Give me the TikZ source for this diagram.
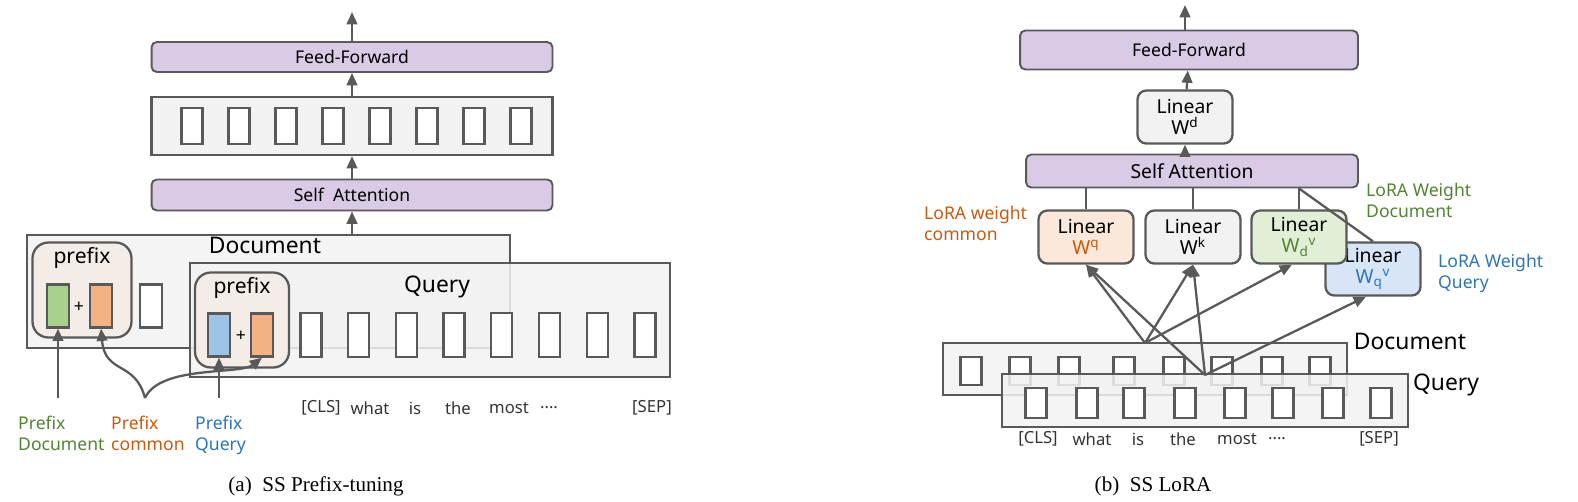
\documentclass[tikz,border=0pt]{standalone}
\usepackage{fontspec}
\setmainfont{Noto Sans}
\newfontfamily\capfont{Liberation Serif}
\usetikzlibrary{arrows.meta}
\definecolor{edgecolor}{RGB}{89,89,89}
\definecolor{attncolor}{RGB}{217,202,230}
\definecolor{panelcolor}{RGB}{242,242,242}
\definecolor{prefixcolor}{RGB}{244,236,230}
\definecolor{doccolor}{RGB}{169,209,142}
\definecolor{commoncolor}{RGB}{244,177,131}
\definecolor{querycolor}{RGB}{157,195,230}
\definecolor{doctext}{RGB}{84,130,53}
\definecolor{commontext}{RGB}{197,90,17}
\definecolor{querytext}{RGB}{46,117,182}

\begin{document}
\begin{tikzpicture}[
    x=0.02cm, y=-0.02cm,
    layer/.style={draw=edgecolor, line width=1.1pt, fill=attncolor, rounded corners=3pt, font=\fontsize{10}{12}\selectfont},
    seqbox/.style={draw=edgecolor, line width=1.3pt, fill=panelcolor, fill opacity=0.85},
    tok/.style={draw=edgecolor, line width=1.3pt, fill=white, minimum width=0.42cm, minimum height=0.8cm, inner sep=0pt},
    vec/.style={draw=edgecolor, line width=1.3pt, minimum width=0.44cm, minimum height=0.86cm, inner sep=0pt},
    linbox/.style={draw=edgecolor, line width=1.3pt, rounded corners=5pt, minimum width=1.9cm, minimum height=1.06cm, align=center, inner sep=1pt, font=\fontsize{11}{12}\selectfont\bfseries},
    arrow/.style={-{Triangle[length=7pt,width=6pt]}, draw=edgecolor, line width=1.3pt},
    line/.style={draw=edgecolor, line width=1.3pt},
    title/.style={font=\fontsize{13}{14}\selectfont\bfseries},
    word/.style={font=\fontsize{9.5}{11}\selectfont\bfseries, text=black!80},
    tag/.style={font=\fontsize{10}{12}\selectfont\bfseries, align=left},
    caption/.style={font=\capfont\fontsize{12}{14}\selectfont},
]
\useasboundingbox (0,0) rectangle (1578,501);

% ============ (a) prefix-tuning ============
\node[layer, minimum width=8.02cm, minimum height=0.6cm] (ffa) at (352,57) {Feed-Forward};
\node[draw=edgecolor, line width=1.3pt, fill=panelcolor, minimum width=8.02cm, minimum height=1.16cm] (hida) at (352,126) {};
\foreach \i in {0,...,7}
    \node[tok, minimum height=0.72cm] (ha\i) at (192+47*\i,126) {};
\node[layer, minimum width=8.02cm, minimum height=0.62cm] (sta) at (352,195) {Self\ \ Attention};
\coordinate (topa) at (352,12);

% Document / Query
\path[seqbox] (27,235) rectangle (510,348);
\coordinate (doca) at (352,235);
\node[title] (docla) at (265,245) {Document};
\node[draw=edgecolor, line width=1.3pt, fill=prefixcolor, rounded corners=9pt, minimum width=1.98cm, minimum height=1.9cm] (prfd) at (82,290) {};
\node[font=\fontsize{12}{13}\selectfont\bfseries] at (82,258) {prefix};
\node[vec, fill=doccolor] (pdd) at (58,306) {};
\node[vec, fill=commoncolor] (pdc) at (101,306) {};
\node[font=\bfseries] at (79,307) {+};
\node[vec, fill=white] (pdw) at (151,306) {};

\path[seqbox] (190,263) rectangle (670,377);
\node[title] (qryla) at (437,287) {Query};
\node[draw=edgecolor, line width=1.3pt, fill=prefixcolor, rounded corners=9pt, minimum width=1.88cm, minimum height=1.9cm] (prfq) at (242,320) {};
\node[font=\fontsize{12}{13}\selectfont\bfseries] at (242,288) {prefix};
\node[vec, fill=querycolor] (pqq) at (219,335) {};
\node[vec, fill=commoncolor] (pqc) at (262,335) {};
\node[font=\bfseries] at (241,336) {+};
\foreach \i in {0,...,7}
    \node[tok, minimum height=0.88cm] (qa\i) at (311+47.7*\i,335) {};

\foreach \w/\x in {{[CLS]}/321, what/370, is/415, the/458, most/509, {....}/549, {[SEP]}/652}
    \node[word] at (\x,408) {\w};

\node[tag, text=doctext, anchor=north west] (tagd) at (12,410) {Prefix\\Document};
\node[tag, text=commontext, anchor=north west] (tagc) at (105,410) {Prefix\\common};
\node[tag, text=querytext, anchor=north west] (tagq) at (189,410) {Prefix\\Query};
\coordinate (fork) at (145,398);

\draw[arrow] (58,398) -- (pdd.south);
\draw[arrow] (219,398) -- (pqq.south);
\draw[arrow] (fork) .. controls (135,360) and (105,375) .. (pdc.south);
\draw[arrow] (fork) .. controls (160,365) and (240,375) .. (pqc.south);
\draw[arrow] (doca) -- (sta);
\draw[arrow] (sta) -- (hida);
\draw[arrow] (hida) -- (ffa);
\draw[arrow] (ffa) -- (topa);

\node[caption] (capa) at (316,486) {(a)\ \ SS Prefix-tuning};

% ============ (b) LoRA ============
\node[layer, minimum width=6.76cm, minimum height=0.78cm] (ffb) at (1189,50) {Feed-Forward};
\node[linbox, fill=panelcolor] (wd) at (1185,117) {Linear\\W\textsuperscript{d}};
\node[layer, minimum width=6.64cm, minimum height=0.66cm, font=\fontsize{11}{12}\selectfont] (stb) at (1192,171) {Self Attention};
\coordinate (topb) at (1185,5);

\node[linbox, fill=blue!8!querycolor!35] (wqv) at (1373,269) {Linear\\\textcolor{querytext}{W\textsubscript{q}\textsuperscript{v}}};
\node[linbox, fill=doccolor!35] (wdv) at (1299,237) {Linear\\\textcolor{doctext}{W\textsubscript{d}\textsuperscript{v}}};
\node[linbox, fill=commoncolor!30] (wq) at (1086,237) {Linear\\\textcolor{commontext}{W\textsuperscript{q}}};
\node[linbox, fill=panelcolor] (wk) at (1193,237) {Linear\\W\textsuperscript{k}};

\draw[line] (stb.south -| wq) -- (wq);
\draw[line] (stb.south -| wk) -- (wk);
\draw[line] (stb.south -| wdv) -- (wdv);
\draw[line] (stb.south -| wdv) -- (wqv.north);

\node[tag, text=commontext, anchor=north west] (tagcb) at (918,200) {LoRA weight\\common};
\node[tag, text=doctext, anchor=north west] (tagdb) at (1360,177) {LoRA Weight\\Document};
\node[tag, text=querytext, anchor=north west] (tagqb) at (1432,248) {LoRA Weight\\Query};

\path[seqbox] (943,343) rectangle (1347,395);
\node[tok, minimum height=0.56cm] (db0) at (971,371) {};
\foreach \i/\x in {1/1020, 2/1069, 3/1124, 4/1174, 5/1222, 6/1272, 7/1320}
    \node[tok, minimum height=0.56cm] (db\i) at (\x,371) {};
\node[title] (doclb) at (1410,341) {Document};
\coordinate (docb) at (1145,343);

\path[seqbox] (1002,374) rectangle (1408,427);
\foreach \i/\x in {0/1036, 1/1087, 2/1134, 3/1185, 4/1235, 5/1283, 6/1333, 7/1381}
    \node[tok, minimum height=0.6cm] (qb\i) at (\x,403) {};
\node[title] (qrylb) at (1446,385) {Query};
\coordinate (qryb) at (1205,375);

\foreach \w/\x in {{[CLS]}/1038, what/1092, is/1138, the/1183, most/1237, {....}/1277, {[SEP]}/1379}
    \node[word] at (\x,439) {\w};

\draw[arrow] (docb) -- (wq.south);
\draw[arrow] (docb) -- (wk.south);
\draw[arrow] (docb) -- ([xshift=-4pt]wdv.south);
\draw[arrow] (qryb) -- (wq.south);
\draw[arrow] (qryb) -- (wk.south);
\draw[arrow] (qryb) -- ([xshift=-4pt]wqv.south);
\draw[arrow] (stb.north -| wd) -- (wd);
\draw[arrow] (wd) -- (ffb);
\draw[arrow] (ffb.north -| topb) -- (topb);

\node[caption] (capb) at (1153,486) {(b)\ \ SS LoRA};
\end{tikzpicture}
\end{document}
